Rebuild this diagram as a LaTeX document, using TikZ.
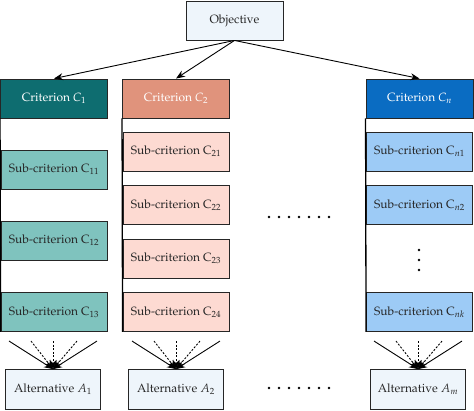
\documentclass[tikz,border=0pt]{standalone}
\usepackage[T1]{fontenc}
\usepackage{mathpazo}
\usetikzlibrary{arrows.meta,positioning}

\definecolor{pale}{HTML}{EEF5FB}
\definecolor{crit1}{HTML}{0E6D70}
\definecolor{crit2}{HTML}{E0937C}
\definecolor{critn}{HTML}{0A6CC2}
\definecolor{sub1}{HTML}{7FC3BE}
\definecolor{sub2}{HTML}{FDDAD2}
\definecolor{subn}{HTML}{9DCBF6}

\begin{document}
\begin{tikzpicture}[x=1pt,y=-1pt,
    box/.style={draw=black!85, line width=0.9pt, minimum height=39pt,
      inner sep=0pt, font=\fontsize{12}{14}\selectfont, text=black!85},
    crit/.style={box, minimum width=107pt, text=white},
    sub/.style={box, minimum width=106pt},
    alt/.style={box, minimum width=95pt, minimum height=40pt, fill=pale},
    arr/.style={-{Stealth[length=9pt,width=7pt]}, line width=0.9pt},
    fan/.style={arr, dash pattern=on 2pt off 1.6pt},
    spine/.style={line width=1.3pt}]
    \useasboundingbox (0,0) rectangle (474,410);
    \node[box, fill=pale, minimum width=97pt] (obj) at (234.5,20.5) {Objective};
    % criteria with their sub-criteria
    \foreach \lcol/\xc/\lsubs/\llast in {1/54/{11/169.5,12/240.5,13/312}/13,
        2/176/{21/151.5,22/205,23/258.5,24/312}/24,
        n/419.5/{n1/151.5,n2/205,nk/312}/nk} {
        \node[crit, fill=crit\lcol] (c-\lcol) at (\xc,98.5) {Criterion $C_{\lcol}$};
        \draw[arr] (obj.south) -- (c-\lcol.north);
        \foreach \lsub/\ly in \lsubs {
            \node[sub, fill=sub\lcol] (s-\lcol-\lsub) at (\xc,\ly)
                {Sub-criterion C$_{\lsub}$};
        }
        \draw[spine] (c-\lcol.south west) -- (s-\lcol-\llast.south west);
    }
    % the dots
    \foreach \k in {0,...,6} {
        \fill (269+10*\k,217) circle (1.3);
        \fill (269+10*\k,388) circle (1.3);
    }
    \foreach \ly in {250,260,270}
        \fill (419,\ly) circle (1.3);
    % alternatives
    \foreach \lalt/\xa in {1/53, 2/176, m/418} {
        \node[alt] (a-\lalt) at (\xa,389.5) {Alternative $A_{\lalt}$};
        \foreach[count=\k] \dx/\lsty in {-44/arr,-22/fan,0/fan,24/fan,44/arr} {
            \coordinate (f-\lalt-\k) at ([shift={(\dx,-28)}]a-\lalt.north);
            \draw[\lsty] (f-\lalt-\k) -- (a-\lalt.north);
        }
    }
\end{tikzpicture}
\end{document}
